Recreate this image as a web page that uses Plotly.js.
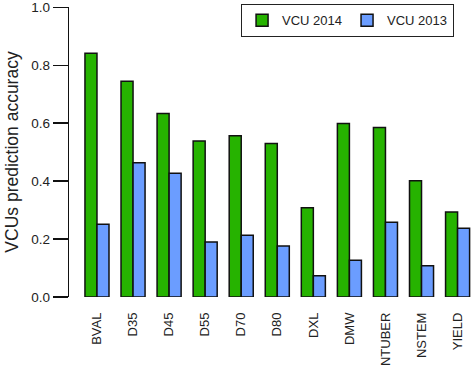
<!DOCTYPE html>
<html>
<head>
<meta charset="utf-8">
<script src="https://cdn.plot.ly/plotly-3.0.1.min.js"></script>
<style>html,body{margin:0;padding:0;background:#fff;}#chart{width:474px;height:372px;}</style>
</head>
<body>
<div id="chart"></div>
<script>
var categories = ["BVAL", "D35", "D45", "D55", "D70", "D80", "DXL", "DMW", "NTUBER", "NSTEM", "YIELD"];
var vcu2014 = [0.841, 0.744, 0.633, 0.538, 0.556, 0.530, 0.308, 0.599, 0.585, 0.401, 0.293];
var vcu2013 = [0.251, 0.463, 0.427, 0.190, 0.213, 0.176, 0.073, 0.127, 0.258, 0.108, 0.237];
var seriesNames = ["VCU 2014", "VCU 2013"];
var yTicks = [0, 0.2, 0.4, 0.6, 0.8, 1.0];

var font = "Liberation Sans, Arial, sans-serif";
var traces = [
  {type: "bar", name: seriesNames[0], x: categories, y: vcu2014,
   marker: {color: "#26b300", line: {color: "#111", width: 1.5}}},
  {type: "bar", name: seriesNames[1], x: categories, y: vcu2013,
   marker: {color: "#6b9dff", line: {color: "#111", width: 1.5}}}
];
var layout = {
  width: 474, height: 372,
  margin: {l: 69, r: 2, t: 7, b: 75},
  paper_bgcolor: "#fff", plot_bgcolor: "#fff",
  font: {family: font, color: "#222", size: 13},
  barmode: "group", bargap: 0.3333, bargroupgap: 0,
  showlegend: true,
  legend: {orientation: "h", x: 0.955, xanchor: "right", y: 1.01, yanchor: "top",
           bordercolor: "#222", borderwidth: 1.2, font: {size: 13, family: font, color: "#222"},
           bgcolor: "#fff", traceorder: "normal"},
  xaxis: {type: "category", range: [-0.776, 10.4], showline: false, showgrid: false, zeroline: false,
          ticks: "", tickangle: -90, tickfont: {size: 13, family: font, color: "#222"},
          ticklabelstandoff: 12, automargin: false, fixedrange: true},
  yaxis: {range: [0, 1.0005], tickvals: yTicks, tickformat: ".1f", showline: true, linecolor: "#111", linewidth: 1.2,
          ticks: "outside", ticklen: 15, tickwidth: 1.2, tickcolor: "#111", showgrid: false, zeroline: false,
          ticklabeloverflow: "allow",
          tickfont: {size: 13.5, family: font, color: "#222"}, automargin: false,
          title: {text: "VCUs prediction accuracy", font: {size: 17.5, family: font, color: "#222"}, standoff: 8}}
};
Plotly.newPlot("chart", traces, layout, {displayModeBar: false, staticPlot: true});
</script>
</body>
</html>
